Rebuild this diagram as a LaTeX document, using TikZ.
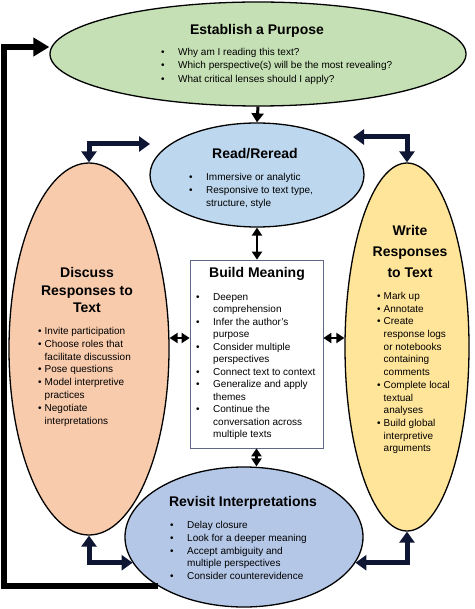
\documentclass[tikz,border=0pt]{standalone}
\usepackage{fontspec}
\setmainfont{Liberation Sans}
\usetikzlibrary{shapes.geometric,arrows.meta}

\newcommand{\itm}[1]{\makebox[17pt][l]{\textbullet}#1}
\newcommand{\cnt}[1]{\hspace*{17pt}#1}
\newcommand{\itn}[1]{\makebox[6.5pt][l]{\textbullet}#1}
\newcommand{\cnn}[1]{\hspace*{6.5pt}#1}

\begin{document}
\begin{tikzpicture}
		[x=1pt,y=-1pt,line join=miter,
		%Styles
		stage/.style={ellipse,draw=black,line width=1.3pt,inner sep=0pt},
		title/.style={font=\bfseries\fontsize{14}{17.5}\selectfont,align=center,inner sep=0pt},
		points/.style={font=\fontsize{10}{12.8}\selectfont,align=left,anchor=north west,inner sep=0pt},
		blockarrow/.style={line width=5pt,draw=navy,>={Triangle[width=15pt,length=11pt]},<->},
		dblarrow/.style={line width=2.5pt,draw=black,>={Triangle[width=10pt,length=8pt]},<->},
		downarrow/.style={line width=3pt,draw=black,-{Triangle[width=12pt,length=9pt]}},
		returnline/.style={line width=6pt,draw=black,-{Triangle[width=18pt,length=16pt]}}
		]
		
		%Colors
		\definecolor{navy}{RGB}{14,22,52}
		\definecolor{purposecolor}{RGB}{197,224,180}
		\definecolor{readcolor}{RGB}{189,215,238}
		\definecolor{discusscolor}{RGB}{248,203,173}
		\definecolor{writecolor}{RGB}{255,229,153}
		\definecolor{revisitcolor}{RGB}{180,199,231}
		\definecolor{boxline}{RGB}{95,105,135}
		
		\useasboundingbox (0,0) rectangle (474,609);
		
		%The stages
		\node[stage,fill=purposecolor,minimum width=416pt,minimum height=104pt] (purpose) at (258,54) {};
		\node[stage,fill=readcolor,minimum width=214pt,minimum height=104pt] (read) at (257,175) {};
		\node[stage,fill=discusscolor,minimum width=160pt,minimum height=372pt] (discuss) at (89,349) {};
		\node[stage,fill=writecolor,minimum width=124pt,minimum height=368pt] (write) at (407,347) {};
		\node[stage,fill=revisitcolor,minimum width=238pt,minimum height=140pt] (revisit) at (244,537) {};
		\node[draw=boxline,line width=0.8pt,fill=white,minimum width=133pt,minimum height=188pt] (meaning) at (256.5,354) {};
		
		%Texts
		\node[title] (purposetitle) at (257,31) {Establish a Purpose};
		\node[points,font=\fontsize{10}{13.3}\selectfont] (purposelist) at (161,48) {\itm{Why am I reading this text?}\\
			\itm{Which perspective(s) will be the most revealing?}\\
			\itm{What critical lenses should I apply?}};
		
		\node[title] (readtitle) at (255,154) {Read/Reread};
		\node[points,font=\fontsize{10}{13}\selectfont] (readlist) at (189,173) {\itm{Immersive or analytic}\\
			\itm{Responsive to text type,}\\
			\cnt{structure, style}};
		
		\node[title] (meaningtitle) at (257,274) {Build Meaning};
		\node[points,font=\fontsize{10}{12.5}\selectfont] (meaninglist) at (196,293) {\itm{Deepen}\\
			\cnt{comprehension}\\
			\itm{Infer the author's}\\
			\cnt{purpose}\\
			\itm{Consider multiple}\\
			\cnt{perspectives}\\
			\itm{Connect text to context}\\
			\itm{Generalize and apply}\\
			\cnt{themes}\\
			\itm{Continue the}\\
			\cnt{conversation across}\\
			\cnt{multiple texts}};
		
		\node[title] (discusstitle) at (87,290) {Discuss\\Responses to\\Text};
		\node[points] (discusslist) at (38,327) {\itn{Invite participation}\\
			\itn{Choose roles that}\\
			\cnn{facilitate discussion}\\
			\itn{Pose questions}\\
			\itn{Model interpretive}\\
			\cnn{practices}\\
			\itn{Negotiate}\\
			\cnn{interpretations}};
		
		\node[title,font=\bfseries\fontsize{14}{21}\selectfont] (writetitle) at (410,251) {Write\\Responses\\to Text};
		\node[points,font=\fontsize{10}{12.7}\selectfont] (writelist) at (377,292) {\itn{Mark up}\\
			\itn{Annotate}\\
			\itn{Create}\\
			\cnn{response logs}\\
			\cnn{or notebooks}\\
			\cnn{containing}\\
			\cnn{comments}\\
			\itn{Complete local}\\
			\cnn{textual}\\
			\cnn{analyses}\\
			\itn{Build global}\\
			\cnn{interpretive}\\
			\cnn{arguments}};
		
		\node[title] (revisittitle) at (243,503) {Revisit Interpretations};
		\node[points] (revisitlist) at (170,521) {\itm{Delay closure}\\
			\itm{Look for a deeper meaning}\\
			\itm{Accept ambiguity and}\\
			\cnt{multiple perspectives}\\
			\itm{Consider counterevidence}};
		
		%Connectors
		\coordinate (corner) at (4,47);
		\coordinate (tl) at (150,144);
		\coordinate (tr) at (353,137);
		
		\draw[downarrow] (purpose.south) -- (read.north);
		\draw[dblarrow] (read.south) -- (read.south |- meaning.north);
		\draw[dblarrow] (meaning.south) -- (meaning.south |- revisit.north);
		\draw[dblarrow] ([yshift=11pt]discuss.east) -- ([yshift=16pt]meaning.west);
		\draw[dblarrow] ([yshift=16pt]meaning.east) -- ([yshift=9pt]write.west);
		
		\draw[blockarrow] (tl) -| (discuss.north);
		\draw[blockarrow] (tr) -| (write.north);
		\draw[blockarrow] (discuss.south) |- (revisit.193);
		\draw[blockarrow] (write.south) |- (revisit.347);
		
		\draw[returnline] (revisit.210) -| (corner) -- ([yshift=7pt]purpose.west);
	\end{tikzpicture}
\end{document}
